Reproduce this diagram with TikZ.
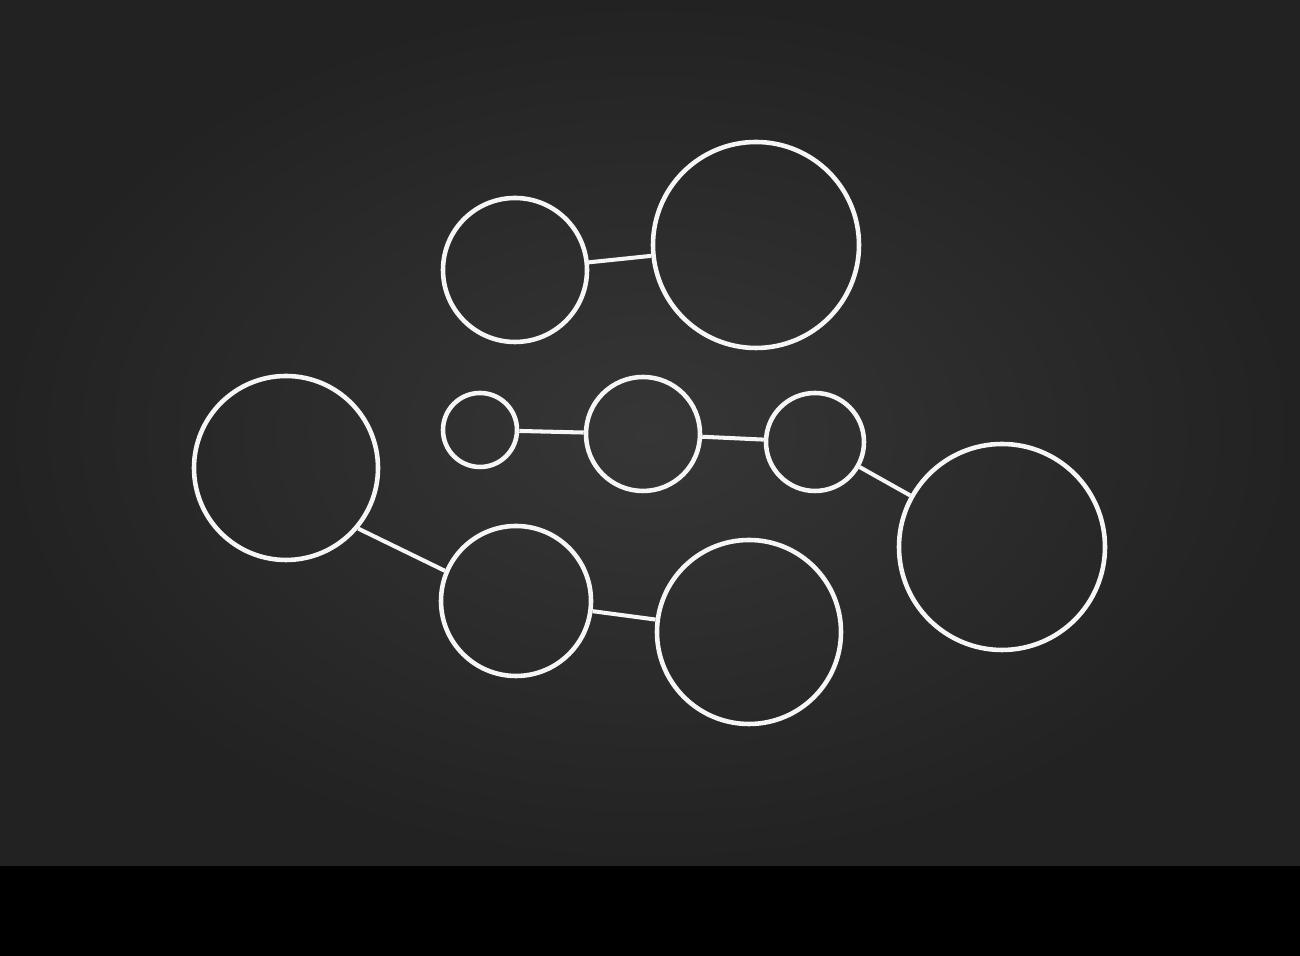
\documentclass[tikz,border=0pt]{standalone}
\usepackage{tikz}
\definecolor{boardmid}{HTML}{363636}
\definecolor{boardedge}{HTML}{222222}
\definecolor{chalk}{HTML}{F6F6F6}
\begin{document}
\begin{tikzpicture}
[
bubble/.style={draw=chalk,circle,line width=2.6pt,inner sep=0pt,minimum size=#1},
link/.style={draw=chalk,line width=2.3pt},
]
%Board and frame
\useasboundingbox (0,0) rectangle (26,19.12);
\fill[black] (0,0) rectangle (26,19.12);
\shade[inner color=boardmid,outer color=boardedge] (0,1.8) rectangle (26,19.12);
%Place the nodes
\node[bubble=2.88cm] (topl) at (10.30,13.72) {};
\node[bubble=4.12cm] (topr) at (15.12,14.22) {};
\node[bubble=1.48cm] (midl) at (9.60,10.52) {};
\node[bubble=2.28cm] (midc) at (12.86,10.44) {};
\node[bubble=1.96cm] (midr) at (16.30,10.28) {};
\node[bubble=3.68cm] (left) at (5.72,9.76) {};
\node[bubble=4.12cm] (right) at (20.04,8.18) {};
\node[bubble=3.00cm] (botl) at (10.32,7.10) {};
\node[bubble=3.68cm] (botr) at (14.98,6.48) {};
%Draw the connections
\draw[link] (topl) -- (topr);
\draw[link] (midl) -- (midc);
\draw[link] (midc) -- (midr);
\draw[link] (midr) -- (right);
\draw[link] (left.-40) -- (botl.157);
\draw[link] (botl) -- (botr);
\end{tikzpicture}
\end{document}
